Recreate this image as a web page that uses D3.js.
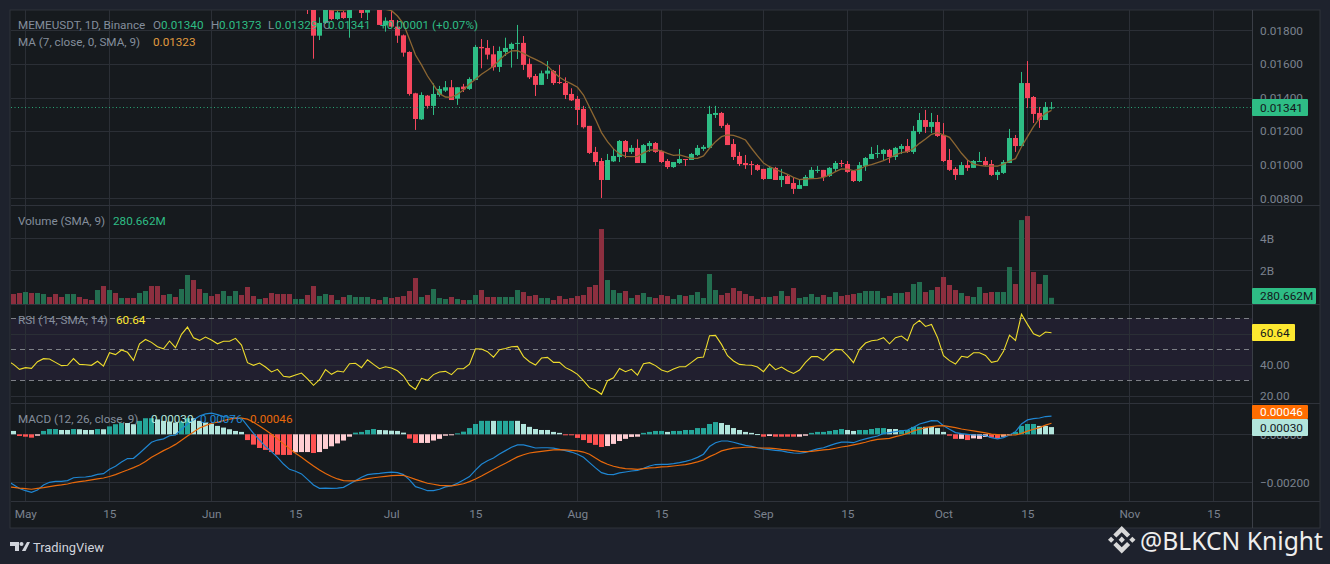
<!DOCTYPE html>
<html>
<head>
<meta charset="utf-8">
<title>MEMEUSDT 1D</title>
<script src="https://cdn.jsdelivr.net/npm/d3@7/dist/d3.min.js"></script>
<style>
html,body{margin:0;padding:0;background:#1e222d;overflow:hidden}
svg{display:block}
text{font-family:Roboto,sans-serif}
text.mark{font-family:"Noto Sans",sans-serif}
</style>
</head>
<body>
<svg id="chart" width="1330" height="564"></svg>
<script>
// Daily rows, in days counted from 1 May 2024.
const firstVolumeDay = -2;
const firstCandleDay = 47;
const firstLineDay = -3;

// Daily candles [open, high, low, close], in units of 0.00001 USDT.
const candles = [
[1980,2000,1897,1940],[1960,1990,1631,1768],[1768,1877,1742,1844],[1844,1960,1838,1935],[1950,1980,1860,1867],
[1867,1925,1861,1907],[1907,1915,1868,1873],[1873,1940,1756,1925],[1945,1975,1925,1930],[1935,1950,1873,1903],
[1905,1950,1861,1935],[1950,1980,1925,1960],[1960,1985,1832,1832],[1830,1877,1792,1857],[1861,1921,1822,1822],
[1822,1861,1725,1768],[1770,1775,1643,1667],[1671,1675,1411,1421],[1425,1428,1207,1272],[1270,1431,1266,1415],
[1411,1415,1334,1350],[1350,1484,1296,1421],[1415,1469,1405,1451],[1441,1498,1433,1461],[1461,1504,1385,1385],
[1393,1461,1356,1461],[1465,1481,1433,1449],[1451,1520,1445,1510],[1504,1713,1504,1701],[1701,1748,1574,1693],
[1695,1742,1627,1655],[1657,1707,1560,1580],[1582,1703,1552,1677],[1671,1756,1647,1695],[1689,1727,1578,1719],
[1719,1832,1629,1725],[1725,1766,1564,1594],[1600,1633,1510,1520],[1528,1540,1409,1475],[1475,1560,1475,1544],
[1542,1617,1510,1560],[1558,1564,1475,1486],[1492,1594,1480,1486],[1486,1520,1391,1415],[1421,1455,1379,1383],
[1391,1409,1236,1326],[1332,1350,1215,1223],[1231,1231,1064,1070],[1076,1106,994,1016],[1022,1040,802,909],
[909,1064,909,1028],[1020,1094,1016,1052],[1046,1147,1016,1141],[1141,1147,1040,1076],[1076,1117,1064,1100],
[1100,1151,1010,1010],[1010,1123,1010,1117],[1111,1141,1076,1129],[1129,1135,1070,1076],[1082,1088,1010,1016],
[1022,1034,975,986],[986,1016,981,1016],[1010,1094,1004,1034],[1034,1034,992,1028],[1028,1070,1028,1064],
[1058,1117,1052,1100],[1094,1117,1082,1106],[1100,1350,1100,1302],[1296,1350,1278,1308],[1308,1314,1219,1231],
[1237,1246,1117,1117],[1123,1153,1028,1046],[1052,1076,992,1004],[1010,1058,975,998],[1004,1022,939,998],
[998,1004,963,969],[975,975,909,915],[915,987,915,981],[981,987,909,909],[909,975,867,933],
[933,939,885,885],[891,921,826,856],[856,909,856,879],[873,939,873,927],[921,986,915,969],
[963,992,951,969],[969,969,903,927],[933,986,927,981],[975,1022,957,1010],[1010,1028,986,1004],
[1004,1022,951,957],[963,963,897,903],[903,1016,897,998],[992,1046,963,1040],[1034,1106,1034,1064],
[1064,1117,1040,1070],[1064,1094,1028,1088],[1088,1094,1010,1046],[1046,1106,1028,1100],[1094,1123,1064,1111],
[1111,1153,1070,1076],[1076,1231,1064,1201],[1195,1308,1183,1266],[1266,1326,1189,1225],[1225,1308,1189,1254],
[1254,1296,1165,1171],[1177,1248,1016,1022],[1028,1094,963,969],[975,986,909,939],[939,1016,939,998],
[998,1028,963,981],[981,1028,981,1022],[1016,1076,1016,1022],[1022,1046,992,998],[1004,1028,933,939],
[939,969,909,957],[951,1028,945,1016],[1010,1213,1010,1159],[1159,1177,1076,1111],[1111,1552,1111,1486],
[1486,1617,1338,1397],[1403,1409,1248,1302],[1308,1344,1219,1266],[1266,1373,1266,1344],[1340,1373,1329,1341]
];

// Moving average of the close, same units and days as the candles.
const movingAverage = [
1990,1965,1940,1928,1922,1919,1920,1924,1935,1942,
1945,1942,1935,1925,1917,1885,1838,1746,1653,1594,
1528,1475,1423,1403,1401,1419,1445,1481,1508,1538,
1562,1588,1623,1657,1677,1679,1663,1643,1627,1609,
1588,1552,1520,1498,1481,1461,1415,1342,1270,1191,
1137,1094,1064,1050,1048,1050,1070,1086,1090,1082,
1068,1056,1058,1048,1038,1038,1052,1098,1137,1167,
1177,1175,1163,1147,1098,1052,1010,988,973,957,
943,925,911,915,917,919,925,939,959,975,
973,965,973,992,1000,1012,1024,1040,1058,1072,
1078,1096,1127,1153,1181,1191,1177,1163,1117,1068,
1028,1004,996,992,992,992,1004,1022,1036,1107,
1167,1227,1276,1306,1323
];

// Traded volume per day, in millions.
const volumes = [
518,581,643,581,581,518,331,518,331,518,
518,331,206,143,768,1018,768,581,268,268,
268,581,706,1018,1018,456,518,331,831,1706,
1393,831,581,393,518,706,393,706,456,956,
393,206,268,581,518,518,518,206,206,456,
1018,393,518,456,143,331,456,331,331,331,
206,143,331,268,331,393,706,1518,331,456,
831,268,206,331,206,143,143,456,768,331,
331,331,331,331,768,643,393,456,268,268,
143,393,206,268,393,456,956,1081,4579,1393,
768,581,706,268,456,581,331,268,456,393,
206,456,393,456,643,268,1768,768,456,581,
893,706,518,393,206,331,331,393,706,393,
893,268,331,518,331,456,331,643,393,456,
518,581,706,706,706,268,393,581,581,643,
1143,1268,643,768,956,1581,1081,768,581,393,
331,956,581,643,643,643,2205,1143,5141,5391,
1893,1143,1706,280.662
];
// G for a day that closed up, R for one that closed down.
const volumeDirections =
"RRGRGGRRRG"+"GRRRGRGRGR"+"RGGRRRGRGG"+"RRGRRGGGRR"+"RGRRRRRGGR"+
"RGGRGRGGGG"+"RRGRRRRRGR"+"GGGRGRGGRR"+"RGGGGRRRGG"+"RRRRRRRRRG"+
"GGRGRGGRRR"+"GGRGGGGGRR"+"RRRRRRGRGR"+"RGGGGRGGRR"+"RGGGGGRGGR"+
"GGRGRRRRGR"+"GGRRGGGRGR"+"RRGG";

const rsiValues = [
42.6,
40.2,37.0,38.1,37.6,41.9,43.9,43.7,41.5,39.4,39.6,
43.9,40.2,40.0,39.6,42.2,39.1,47.7,46.5,49.5,48.0,
42.8,53.5,56.3,54.4,51.6,50.3,55.3,51.0,59.6,64.3,
57.4,55.7,57.8,55.9,53.5,55.1,55.1,57.0,52.7,41.3,
39.6,41.1,38.5,35.3,37.0,32.5,32.0,33.3,34.6,30.8,
26.7,30.3,36.8,33.8,35.9,35.3,40.6,40.9,38.1,43.2,
40.2,37.4,38.7,37.9,36.1,32.7,26.9,24.1,31.2,29.9,
33.6,35.3,35.7,33.6,37.4,37.4,40.4,50.3,50.1,48.4,
44.9,49.7,50.5,51.6,51.8,45.2,41.9,39.8,44.3,44.7,
41.5,41.5,38.1,36.3,33.8,29.7,25.2,23.7,20.9,29.7,
31.6,37.6,35.5,37.0,33.3,40.6,41.3,39.4,36.6,35.3,
37.2,38.7,38.7,41.5,44.5,44.9,58.7,58.9,53.1,45.8,
42.4,40.2,39.8,39.6,38.5,35.5,40.4,36.8,38.5,36.1,
34.4,36.6,41.5,45.2,45.2,42.8,46.9,49.9,49.7,45.8,
41.3,49.9,54.0,55.5,55.9,57.4,53.5,57.4,58.5,55.5,
65.6,68.6,64.7,66.0,57.6,45.8,42.6,40.4,45.4,44.7,
47.7,47.7,46.0,41.5,42.4,48.6,59.1,55.7,72.5,66.0,
60.0,58.3,61.1,60.64
];

// MACD line, signal line and histogram, in units of 0.00001.
const macdLine = [
-196,
-210,-226,-235,-242,-232,-211,-200,-196,-196,-193,
-181,-179,-178,-174,-167,-164,-146,-133,-115,-101,
-100,-79,-56,-33,-24,-19,-6,-3,21,43,
60,76,85,88,82,74,71,68,67,35,
4,-24,-51,-72,-96,-124,-146,-154,-165,-188,
-211,-225,-224,-225,-224,-221,-207,-193,-179,-168,
-165,-163,-160,-158,-160,-168,-190,-218,-226,-235,
-235,-229,-219,-215,-204,-190,-176,-149,-125,-110,
-99,-82,-68,-54,-44,-44,-50,-57,-56,-56,
-58,-63,-68,-74,-83,-96,-118,-140,-160,-167,
-168,-161,-157,-153,-150,-142,-132,-126,-125,-125,
-122,-118,-113,-106,-96,-83,-51,-35,-28,-28,
-33,-40,-46,-50,-56,-61,-64,-67,-69,-74,
-78,-79,-75,-68,-61,-56,-47,-39,-33,-33,
-35,-26,-19,-13,-7,4,7,11,14,18,
29,43,50,57,56,36,21,7,3,0,
-3,-3,-6,-14,-19,-14,-3,11,43,60,
65,68,74,76
];
const signalLine = [
-219,
-221,-224,-226,-229,-225,-222,-218,-214,-211,-207,
-201,-197,-194,-190,-186,-182,-176,-168,-158,-149,
-139,-128,-113,-96,-82,-68,-56,-42,-25,-7,
10,26,36,46,51,57,63,67,67,63,
50,35,18,0,-19,-40,-60,-79,-96,-114,
-132,-149,-163,-176,-186,-193,-194,-194,-190,-185,
-181,-178,-175,-172,-171,-171,-179,-188,-196,-204,
-208,-213,-214,-215,-211,-206,-197,-186,-174,-160,
-147,-133,-121,-107,-94,-85,-78,-74,-71,-68,
-65,-64,-65,-67,-69,-74,-83,-99,-114,-125,
-133,-139,-143,-144,-146,-143,-140,-139,-136,-135,
-132,-129,-126,-121,-115,-107,-93,-82,-69,-63,
-58,-56,-54,-54,-56,-57,-58,-60,-63,-65,
-68,-71,-72,-71,-68,-65,-63,-58,-53,-49,
-44,-39,-33,-26,-21,-19,-17,-10,-4,4,
14,21,28,32,35,36,32,28,22,18,
14,10,6,1,-1,-3,-3,-3,4,13,
21,28,38,46
];
const macdHistogram = [
14,-7,-10,-14,-6,14,22,22,18,18,
22,21,18,18,22,21,33,42,47,47,
42,56,67,67,62,56,53,49,53,67,
67,56,49,44,35,28,21,14,10,-24,
-43,-57,-65,-74,-85,-86,-86,-75,-74,-74,
-78,-74,-61,-50,-38,-26,-10,7,10,18,
22,18,17,15,14,7,-18,-36,-36,-36,
-26,-19,-6,-2,4,11,26,43,56,56,
56,56,56,56,56,43,31,22,18,18,
10,6,-2,-3,-15,-24,-36,-44,-53,-49,
-40,-28,-19,-11,-10,6,10,14,14,10,
14,14,18,18,26,26,43,51,47,39,
26,18,10,6,1,-10,-7,-10,-10,-10,
-10,-10,-6,6,10,10,14,18,22,18,
14,18,18,22,26,26,22,22,18,18,
31,31,31,31,26,10,-6,-19,-19,-24,
-17,-19,-11,-14,-17,-10,-1,10,35,43,
43,35,35,30
];
// Histogram shades: D rising above zero, L falling above zero, R falling below zero, P rising below zero.
const histogramShades =
"LRRRPDDDLL"+"DLLLDLDDDL"+"LDDDLLLLDD"+"LLLLLLLLLR"+"RRRRRRRPPP"+
"RPPPPPPDDD"+"DLLLLLRRPP"+"PPPPDDDDDD"+"LDDDLLLLLL"+"LLRRRRRRRP"+
"PPPPPDDDDL"+"DDDDDDDDLL"+"LLLLLRPRRR"+"RPPDDDDDDL"+"LDDDDDLLDD"+
"DDLLLLRRPR"+"PPPRRPPDDD"+"DLLL";

const priceTicks = [0.018,0.016,0.014,0.012,0.010,0.008];
const volumeTicks = [4000,2000];
const rsiTicks = [60,40,20];
const rsiBands = [70,50,30];
const macdTicks = [0,-200];
const dateTicks = [
  [Date.UTC(2024,4,1),"May"],[Date.UTC(2024,4,15),"15"],[Date.UTC(2024,5,1),"Jun"],[Date.UTC(2024,5,15),"15"],
  [Date.UTC(2024,6,1),"Jul"],[Date.UTC(2024,6,15),"15"],[Date.UTC(2024,7,1),"Aug"],[Date.UTC(2024,7,15),"15"],
  [Date.UTC(2024,8,1),"Sep"],[Date.UTC(2024,8,15),"15"],[Date.UTC(2024,9,1),"Oct"],[Date.UTC(2024,9,15),"15"],
  [Date.UTC(2024,10,1),"Nov"],[Date.UTC(2024,10,15),"15"]
];

const C = {
  page:"#1e222d", pane:"#161a1e", grid:"#2b2f36", edge:"#2f333b", tick:"#7b828e", label:"#848e9c",
  up:"#2ebd85", down:"#f6465d", upVol:"#236e50", downVol:"#8c2f3f",
  ma:"#8c6632", maText:"#e09a3e", rsi:"#eedc2c", rsiBand:"#211f2f", rsiTag:"#fde830", dash:"#7d8086",
  macd:"#1f86d2", signal:"#e8690b", macdTag:"#ff6d00",
  D:"#26a69a", L:"#b2e5dc", R:"#ff5252", P:"#ffcdd2"
};

const W = {left:11, right:1252, outerRight:1320};
const P = {
  price:{top:10,bottom:205}, volume:{top:205,bottom:304}, rsi:{top:304,bottom:403},
  macd:{top:403,bottom:501}, axis:{top:501,bottom:528}
};

const DAY = 864e5, MAY1 = Date.UTC(2024,4,1);
const dateOf = d => new Date(MAY1 + d*DAY);

const x = d3.scaleUtc().domain([new Date(MAY1), new Date(Date.UTC(2024,10,15))]).range([25.3,1213.3]);
const yPrice = d3.scaleLinear().domain([0.018,0.008]).range([30.3,198.3]);
const yVolume = d3.scaleLinear().domain([4000,0]).range([238.3,302.3]);
const yRsi = d3.scaleLinear().domain([60,20]).range([333.7,395.7]);
const yMacd = d3.scaleLinear().domain([0,-200]).range([434.3,482.3]);
const E5 = v => v*1e-5;

const svg = d3.select("#chart");
svg.append("rect").attr("width",1330).attr("height",564).attr("fill",C.page);
svg.append("rect").attr("x",10).attr("y",10).attr("width",W.outerRight-10).attr("height",518).attr("fill",C.pane)
   .attr("stroke",C.edge).attr("stroke-width",1);

const defs = svg.append("defs");
Object.entries(P).forEach(([k,p])=>{
  defs.append("clipPath").attr("id","clip-"+k).append("rect")
    .attr("x",W.left).attr("y",p.top).attr("width",W.right-W.left).attr("height",p.bottom-p.top);
});
const px = v => Math.round(v)+0.5;
const dayX = d => Math.floor(x(dateOf(d)));

// RSI channel behind the grid
svg.append("rect").attr("x",W.left).attr("width",W.right-W.left)
  .attr("y",yRsi(70)).attr("height",yRsi(30)-yRsi(70)).attr("fill",C.rsiBand);

// Vertical grid through all panes
svg.append("g").selectAll("line").data(dateTicks).join("line")
  .attr("x1",d=>px(x(new Date(d[0])))).attr("x2",d=>px(x(new Date(d[0]))))
  .attr("y1",P.price.top).attr("y2",P.macd.bottom).attr("stroke",C.grid);

// Horizontal grid per pane
const hGrid = (vals, scale) => svg.append("g").selectAll("line").data(vals).join("line")
  .attr("x1",W.left).attr("x2",W.right).attr("y1",d=>px(scale(d))).attr("y2",d=>px(scale(d))).attr("stroke",C.grid);
hGrid(priceTicks,yPrice); hGrid(volumeTicks,yVolume); hGrid(rsiTicks,yRsi); hGrid(macdTicks,yMacd);

// Pane separators and the price scale's left edge
[P.price.bottom,P.volume.bottom,P.rsi.bottom,P.macd.bottom].forEach(y=>{
  svg.append("line").attr("x1",W.left).attr("x2",W.outerRight).attr("y1",y+0.5).attr("y2",y+0.5).attr("stroke",C.edge);
});
svg.append("line").attr("x1",W.right+0.5).attr("x2",W.right+0.5).attr("y1",P.price.top).attr("y2",P.axis.bottom).attr("stroke","#3a3e46");

// Candles
const candleG = svg.append("g").attr("clip-path","url(#clip-price)");
const candleRows = candles.map((c,i)=>({day:firstCandleDay+i,o:E5(c[0]),h:E5(c[1]),l:E5(c[2]),c:E5(c[3])}));
candleG.selectAll("line.wick").data(candleRows).join("line").attr("class","wick")
  .attr("x1",d=>dayX(d.day)+0.5).attr("x2",d=>dayX(d.day)+0.5)
  .attr("y1",d=>yPrice(d.h)).attr("y2",d=>yPrice(d.l))
  .attr("stroke",d=>d.c>=d.o?C.up:C.down);
candleG.selectAll("rect").data(candleRows).join("rect")
  .attr("x",d=>dayX(d.day)-2).attr("width",5)
  .attr("y",d=>yPrice(Math.max(d.o,d.c)))
  .attr("height",d=>Math.max(1,Math.abs(yPrice(d.o)-yPrice(d.c))))
  .attr("fill",d=>d.c>=d.o?C.up:C.down);

// Moving average
const priceLine = d3.line().x((d,i)=>x(dateOf(firstCandleDay+i))+0.2).y(d=>yPrice(E5(d)));
candleG.append("path").attr("d",priceLine(movingAverage)).attr("fill","none").attr("stroke",C.ma).attr("stroke-width",1.3);

// Last price marker
svg.append("line").attr("x1",W.left).attr("x2",W.right).attr("y1",px(yPrice(0.01341))).attr("y2",px(yPrice(0.01341)))
  .attr("stroke",C.up).attr("stroke-dasharray","1 2.5").attr("stroke-opacity",0.85);

// Volume
svg.append("g").attr("clip-path","url(#clip-volume)").selectAll("rect").data(volumes).join("rect")
  .attr("x",(d,i)=>dayX(firstVolumeDay+i)-2).attr("width",5)
  .attr("y",d=>yVolume(d)).attr("height",d=>P.volume.bottom-yVolume(d))
  .attr("fill",(d,i)=>volumeDirections[i]==="G"?C.upVol:C.downVol);

// RSI
const rsiG = svg.append("g").attr("clip-path","url(#clip-rsi)");
rsiG.selectAll("line").data(rsiBands).join("line")
  .attr("x1",W.left).attr("x2",W.right).attr("y1",d=>px(yRsi(d))).attr("y2",d=>px(yRsi(d)))
  .attr("stroke",C.dash).attr("stroke-dasharray","5 4");
const dayLine = y => d3.line().x((d,i)=>x(dateOf(firstLineDay+i))+0.2).y(d=>y(d));
rsiG.append("path").attr("d",dayLine(yRsi)(rsiValues)).attr("fill","none").attr("stroke",C.rsi).attr("stroke-width",1.1);

// MACD
const macdG = svg.append("g").attr("clip-path","url(#clip-macd)");
macdG.selectAll("rect").data(macdHistogram).join("rect")
  .attr("x",(d,i)=>dayX(firstVolumeDay+i)-2).attr("width",5)
  .attr("y",d=>Math.min(yMacd(d),yMacd(0)))
  .attr("height",d=>Math.max(1,Math.abs(yMacd(d)-yMacd(0))))
  .attr("fill",(d,i)=>C[histogramShades[i]]);
macdG.append("path").attr("d",dayLine(yMacd)(macdLine)).attr("fill","none").attr("stroke",C.macd).attr("stroke-width",1.2);
macdG.append("path").attr("d",dayLine(yMacd)(signalLine)).attr("fill","none").attr("stroke",C.signal).attr("stroke-width",1.2);

// Axes
const styleAxis = g => {
  g.select(".domain").remove();
  g.selectAll("text").attr("fill",C.tick).attr("font-size",11.8).attr("font-family",null);
};
const rightAxis = (scale,vals,fmt) => svg.append("g").attr("transform",`translate(${W.right},0)`)
  .call(d3.axisRight(scale).tickValues(vals).tickSize(0).tickPadding(8).tickFormat(fmt)).call(styleAxis);
rightAxis(yPrice,priceTicks,d3.format(".5f"));
rightAxis(yVolume,volumeTicks,d=>(d/1000)+"B");
rightAxis(yRsi,rsiTicks.slice(1),d3.format(".2f"));
rightAxis(yMacd,macdTicks,d=>(d<0?"\u2212":"")+Math.abs(E5(d)).toFixed(5));
const dateLabel = new Map(dateTicks.map(d=>[d[0],d[1]]));
svg.append("g").attr("transform",`translate(0,${P.macd.bottom+9})`)
  .call(d3.axisBottom(x).tickValues(dateTicks.map(d=>new Date(d[0]))).tickSize(0).tickPadding(0).tickFormat(d=>dateLabel.get(+d)))
  .call(styleAxis);

// Scale tags
const tag = (x0,y0,w,h,fill,label,color) => {
  svg.append("rect").attr("x",x0).attr("y",y0).attr("width",w).attr("height",h).attr("fill",fill).attr("rx",1);
  svg.append("text").attr("x",x0+8).attr("y",y0+h/2+4.3).attr("font-size",11.8).attr("fill",color).text(label);
};
tag(W.right,99,56,17,C.up,"0.01341","#14181c");
tag(W.right,288,64,16,C.up,"280.662M","#14181c");
tag(W.right,324,43,17,C.rsiTag,"60.64","#14181c");
tag(W.right,405,56,14,C.macdTag,"0.00046","#ffffff");
tag(W.right,419,56,17,C.L,"0.00030","#14181c");

// Pane legends
const legend = (y,parts) => {
  const t = svg.append("text").attr("y",y).attr("font-size",11.7);
  parts.forEach(([xx,s,c])=>t.append("tspan").attr("x",xx).attr("fill",c).text(s));
};
const g = C.label;
legend(29,[[18,"MEMEUSDT, 1D, Binance",g],[153,"O",g],[161,"0.01340",C.up],[211,"H",g],[219,"0.01373",C.up],
  [268,"L",g],[275,"0.01329",C.up],[323,"C",g],[328,"0.01341",C.up],[380,"+0.00001 (+0.07%)",C.up]]);
legend(46,[[18,"MA (7, close, 0, SMA, 9)",g],[153,"0.01323",C.maText]]);
legend(225,[[18,"Volume (SMA, 9)",g],[113,"280.662M",C.up]]);
legend(324,[[18,"RSI (14, SMA, 14)",g],[116,"60.64",C.rsiTag]]);
legend(423,[[18,"MACD (12, 26, close, 9)",g],[151,"0.00030",C.L],[200,"0.00076",C.macd],[250,"0.00046",C.signal]]);

// TradingView mark and wordmark
svg.append("path").attr("fill","#d1d4dc")
  .attr("d","M10 542h9v9h-4v-5h-5z M27 542h3l-4.5 9h-3.6z").attr("fill-rule","evenodd");
svg.append("circle").attr("cx",21.5).attr("cy",544).attr("r",2).attr("fill","#d1d4dc");
svg.append("text").attr("x",33).attr("y",551.5).attr("font-size",12.9).attr("fill","#d1d4dc").text("TradingView");

// Publisher mark
svg.append("g").attr("transform","translate(1108,526) scale(0.217)").attr("fill","#d8d8d8")
  .selectAll("path").data([
    "M38.73 53.2l24.59-24.58 24.6 24.6 14.3-14.31L63.32 0 24.42 38.9l14.31 14.3z",
    "M0 63.31l14.3-14.31 14.31 14.31-14.31 14.3z",
    "M38.73 73.41l24.59 24.59 24.6-24.6 14.31 14.29-38.9 38.91-38.91-38.88-.02-.02z",
    "M98 63.31l14.3-14.31 14.31 14.3-14.31 14.32z",
    "M77.83 63.3L63.32 48.78 52.59 59.51l-1.24 1.23-2.54 2.54 14.51 14.5 14.51-14.47z"
  ]).join("path").attr("d",d=>d);
svg.append("text").attr("class","mark").attr("x",1140).attr("y",550).attr("font-size",24.7).attr("fill","#eeeeee").text("@BLKCN Knight");
</script>
</body>
</html>
